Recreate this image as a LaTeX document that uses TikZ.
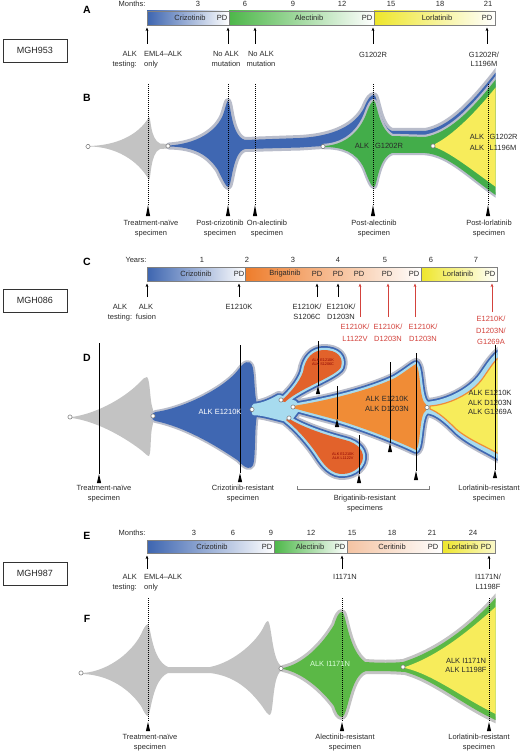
\documentclass[tikz,border=0pt]{standalone}
\usepackage{fontspec}
\setmainfont{Liberation Sans}
\usetikzlibrary{arrows.meta}
\definecolor{crizo}{HTML}{3D65B0}
\definecolor{alec}{HTML}{4DB749}
\definecolor{lorl}{HTML}{EEE62A}
\definecolor{brig}{HTML}{EE7D2C}
\definecolor{ceri}{HTML}{F4C3A2}
\definecolor{fishgray}{HTML}{C3C3C3}
\definecolor{cHalo}{HTML}{B9BDCB}
\definecolor{fblue}{HTML}{3F67B2}
\definecolor{fgreen}{HTML}{43AD4A}
\definecolor{fgreenF}{HTML}{5BB846}
\definecolor{fyellow}{HTML}{F7EC5B}
\definecolor{forange}{HTML}{F08C36}
\definecolor{fdorange}{HTML}{E2622B}
\definecolor{flblue}{HTML}{A7DBEF}
\definecolor{redtxt}{HTML}{D3423C}
\definecolor{bartxt}{HTML}{2A2A2A}
\definecolor{barline}{HTML}{808080}
\newcommand\tlarr[5][]{%
  \coordinate (#2s) at (#3,#4);
  \coordinate (#2e) at (#3,#5);
  \draw[arr,#1] (#2s) -- (#2e);}
\newcommand\specline[6][]{%
  \coordinate (#2t) at (#3,#4);
  \coordinate (#2b) at (#3,#5);
  \draw[#1] (#2t) -- (#2b);
  \fill[black] (#2b) -- ++(-2.1,#6) -- ++(4.2,0) -- cycle;}
% ---- fish paths ----
\def\GB{(89,146) .. controls (115,145.5) and (138,136) .. (149,117) .. controls (151,117) and (150,139) .. (160,143.5) -- (168,144) -- (168,148.5) -- (160,149) .. controls (150,153) and (151,180) .. (149,180) .. controls (138,160) and (115,146.5) .. (89,146.5) -- cycle}
\def\BB{(169,145.5) .. controls (195,144) and (218,132) .. (224,112) .. controls (226,105) and (227,101) .. (228,101) .. controls (231,104) and (231,136) .. (245,140) -- (300,138) .. controls (335,136) and (355,125) .. (364,108) .. controls (368,98) and (371,95) .. (374,95) .. controls (378,96) and (379,126) .. (392,131) -- (425,131) .. controls (448,127) and (470,106) .. (500,67) -- (500,146) -- (323,146) -- (300,147.5) -- (245,149) .. controls (232,152) and (232,187) .. (228,187) .. controls (226,187) and (222,178) .. (218,170) .. controls (208,155) and (195,147) .. (169,146.5) -- cycle}
\def\GrB{(324,146) .. controls (345,145) and (360,132) .. (367,112) .. controls (370,104) and (372,101) .. (374,101) .. controls (377,101) and (378,128) .. (392,136) -- (425,137) .. controls (448,133) and (470,113) .. (500,74) -- (500,198) .. controls (470,178) and (450,155) .. (425,153) -- (392,153) .. controls (378,158) and (377,187) .. (374,187) .. controls (371,187) and (368,178) .. (364,168) .. controls (356,152) and (343,147) .. (324,147) -- cycle}
\def\YB{(433,145) .. controls (448,138) and (470,120) .. (500,82) -- (500,190) .. controls (472,170) and (450,152) .. (433,146.5) -- cycle}
\def\GD{(72,417) .. controls (100,413) and (128,395) .. (140,382) .. controls (143,379) and (145,377) .. (147,377) .. controls (151,381) and (149,406) .. (155,414) -- (155,419) .. controls (149,428) and (152,452) .. (149,456) .. controls (147,456) and (145,453) .. (141,450) .. controls (128,440) and (100,422) .. (72,418) -- cycle}
\def\PBF{(156,416) .. controls (185,412) and (225,392) .. (240,374) .. controls (244,369) and (246,366) .. (248,366) .. controls (251,370) and (250,402) .. (254,406) -- (254,413) .. controls (250,418) and (252,460) .. (249,464) .. controls (247,464) and (244,461) .. (240,457) .. controls (215,440) and (185,423) .. (156,417) -- cycle}
\def\PJ{(254,406) .. controls (264,405) and (272,401) .. (279,397) -- (295,403) -- (296,411) -- (289,420) .. controls (274,417) and (264,413) .. (254,413) -- cycle}
\def\PT{(281,401) .. controls (290,393) and (299,383) .. (303,372) .. controls (305,358) and (313,350) .. (324,350) .. controls (337,350) and (344,357) .. (341,367) .. controls (337,376) and (300,388) .. (285,402) -- cycle}
\def\PB{(288,418) .. controls (300,426) and (322,434) .. (345,440) .. controls (358,443) and (366,452) .. (362,462) .. controls (358,472) and (345,476) .. (336,473) .. controls (325,469) and (320,458) .. (314,450) .. controls (306,439) and (296,428) .. (286,420) -- cycle}
\def\PM{(293,406) .. controls (330,400) and (370,390) .. (395,378) .. controls (405,372) and (412,366) .. (416,364) .. controls (421,370) and (419,400) .. (427,404) .. controls (445,403) and (470,392) .. (482,375) .. controls (489,365) and (493,358) .. (502,351) -- (502,459) .. controls (492,452) and (470,443) .. (457,431) .. controls (446,420) and (437,412) .. (427,411) .. controls (419,414) and (421,446) .. (416,450) .. controls (400,442) and (360,426) .. (330,418) .. controls (315,414) and (300,410) .. (293,408) -- cycle}
\def\PMo{(293,406) .. controls (330,400) and (370,390) .. (395,378) .. controls (405,372) and (412,366) .. (416,364) .. controls (421,370) and (419,400) .. (426,404.5) -- (426,410.5) .. controls (419,414) and (421,446) .. (416,450) .. controls (400,442) and (360,426) .. (330,418) .. controls (315,414) and (300,410) .. (293,408) -- cycle}
\def\PYo{(430,406) .. controls (447,405) and (471,395) .. (483,378) .. controls (490,368) and (494,361) .. (502,354) -- (502,456) .. controls (492,449) and (470,441) .. (456,429) .. controls (446,419) and (438,412) .. (430,409) -- cycle}
\def\GF{(83,673) .. controls (110,671) and (135,650) .. (143,630) .. controls (145,626) and (147,624) .. (148,624) .. controls (151,628) and (152,660) .. (168,667) -- (210,667) .. controls (235,662) and (258,640) .. (264,626) .. controls (266,622) and (267,621) .. (268,621) .. controls (272,625) and (272,664) .. (283,667) -- (283,670) .. controls (272,672) and (274,712) .. (270,715) .. controls (268,715) and (266,712) .. (262,706) .. controls (250,690) and (235,676) .. (210,673) -- (168,673) .. controls (152,680) and (151,714) .. (148,716) .. controls (146,716) and (144,712) .. (141,706) .. controls (130,690) and (110,675) .. (83,674) -- cycle}
\def\GrF{(283,668) .. controls (303,664) and (322,645) .. (334,625) .. controls (337,616) and (339,612) .. (342,612) .. controls (346,612) and (348,650) .. (365,662) .. controls (380,663) and (392,663) .. (403,662) .. controls (440,650) and (472,625) .. (500,593) -- (500,722) .. controls (465,707) and (435,680) .. (405,672) .. controls (392,671) and (380,671) .. (366,671) .. controls (350,675) and (348,716) .. (342,717) .. controls (338,717) and (336,712) .. (334,706) .. controls (322,690) and (303,673) .. (283,669) -- cycle}
\def\YF{(405,667) .. controls (440,655) and (470,630) .. (500,603) -- (500,716) .. controls (465,700) and (435,675) .. (405,668) -- cycle}
\begin{document}
\begin{tikzpicture}[x=1pt,y=-1pt,
  font=\fontsize{7.5}{9.5}\selectfont,
  every node/.style={inner sep=0pt, text=bartxt},
  ml/.style={anchor=north, align=center},
  mlr/.style={anchor=north east, align=right},
  mll/.style={anchor=north west, align=left},
  panel/.style={font=\fontsize{10.5}{12}\selectfont\bfseries, text=black},
  mgh/.style={draw=black!80, line width=0.7, minimum width=64pt, minimum height=23pt, font=\fontsize{9}{10}\selectfont, text=black!85},
  arr/.style={-{Stealth[length=3.6pt,width=2.8pt]}, line width=0.5, draw=black},
  rarr/.style={draw=redtxt},
  dline/.style={line width=0.5, dash pattern=on 1pt off 1pt},
  sline/.style={line width=0.45},
  circ/.style={circle, draw=black!55, fill=white, line width=0.5, minimum size=4.2pt},
  barbox/.style={draw=barline, line width=0.6},
  redml/.style={ml, text=redtxt, font=\fontsize{7.5}{11.5}\selectfont},
]
\useasboundingbox (0,0) rectangle (520,751);
\fill[white] (0,0) rectangle (520,751);

% ================= Panel A =================
\node[panel] (lA) at (87,10) {A};
\node (aM) at (132,4) {Months:};
\node (a3) at (198,4) {3};
\node (a6) at (245,4) {6};
\node (a9) at (293,4) {9};
\node (a12) at (342,4) {12};
\node (a15) at (391,4) {15};
\node (a18) at (440,4) {18};
\node (a21) at (488,4) {21};
\shade[left color=crizo, right color=white] (147,11) rectangle (229,25);
\shade[left color=alec, right color=white] (229,11) rectangle (374,25);
\shade[left color=lorl, right color=white] (374,11) rectangle (495,25);
\draw[barbox] (147,11) rectangle (495,25) (229,11) -- (229,25) (374,11) -- (374,25);
\node (aC) at (190,18) {Crizotinib};
\node (aP1) at (222,18) {PD};
\node (aAl) at (309,18) {Alectinib};
\node (aP2) at (367,18) {PD};
\node (aL) at (437,18) {Lorlatinib};
\node (aP3) at (487,18) {PD};
\tlarr{aA1}{147}{44}{27.5}
\tlarr{aA2}{228}{44}{27.5}
\tlarr{aA3}{255}{44}{27.5}
\tlarr{aA4}{373}{44}{27.5}
\tlarr{aA5}{487}{44}{27.5}
\node[mlr] (aT) at (137,51.6) {ALK\\testing:};
\node[mll] (aE) at (144,51.6) {EML4–ALK\\only};
\node[ml] (aN1) at (226,51.6) {No ALK\\mutation};
\node[ml] (aN2) at (261,51.6) {No ALK\\mutation};
\node[ml] (aG) at (373,51.6) {G1202R};
\node[ml] (aGL) at (484,51.6) {G1202R/\\L1196M};
\node[mgh] (box1) at (35,50.5) {MGH953};

% ================= Panel B =================
\node[panel] (lB) at (87,98) {B};
\begin{scope}
\clip (60,60) rectangle (495.5,206);
\fill[fishgray] \GB;
\path[preaction={draw=cHalo, line width=6, line join=round}, fill=fblue] \BB;
\path[preaction={draw=cHalo, line width=4.5, line join=round}, fill=fgreen] \GrB;
\fill[fyellow] \YB;
\end{scope}
\node[circ] (bc0) at (88,146.5) {};
\node[circ] (bc1) at (168,146) {};
\node[circ] (bc2) at (323,146.5) {};
\node[circ] (bc3) at (433,146) {};
\specline[dline]{bl1}{148}{84}{205}{11}
\specline[dline]{bl2}{228}{84}{205}{11}
\specline[dline]{bl3}{255}{84}{205}{11}
\specline[dline]{bl4}{373}{84}{205}{11}
\specline[dline]{bl5}{488}{84}{205}{11}
\node (bA1) at (362,146) {ALK};
\node (bG1) at (389,146) {G1202R};
\node (bA2) at (477,137) {ALK};
\node[anchor=west] (bG2) at (489.5,137) {G1202R};
\node (bA3) at (477,148) {ALK};
\node[anchor=west] (bL2) at (489.5,148) {L1196M};
\node[ml] (bT) at (151,220.3) {Treatment-naïve\\specimen};
\node[ml] (bP1) at (220,220.3) {Post-crizotinib\\specimen};
\node[ml] (bO) at (267,220.3) {On-alectinib\\specimen};
\node[ml] (bP2) at (374,220.3) {Post-alectinib\\specimen};
\node[ml] (bP3) at (489,220.3) {Post-lorlatinib\\specimen};

% ================= Panel C =================
\node[panel] (lC) at (87,262) {C};
\node (cY) at (136,260) {Years:};
\node (c1) at (202,260) {1};
\node (c2) at (247,260) {2};
\node (c3) at (293,260) {3};
\node (c4) at (338,260) {4};
\node (c5) at (385,260) {5};
\node (c6) at (431,260) {6};
\node (c7) at (476,260) {7};
\shade[left color=crizo, right color=white] (147,267) rectangle (245.5,281);
\shade[left color=brig, right color=white] (245.5,267) rectangle (421,281);
\shade[left color=lorl, right color=white] (421,267) rectangle (497,281);
\draw[barbox] (147,267) rectangle (497,281) (245.5,267) -- (245.5,281) (421,267) -- (421,281);
\node (cC) at (196,274) {Crizotinib};
\node (cP1) at (239,274) {PD};
\node (cB) at (285,274) {Brigatinib};
\node (cP2) at (317,274) {PD};
\node (cP3) at (338,274) {PD};
\node (cP4) at (359,274) {PD};
\node (cP5) at (387,274) {PD};
\node (cP6) at (414,274) {PD};
\node (cL) at (458,274) {Lorlatinib};
\node (cP7) at (490,274) {PD};
\tlarr{cA1}{147}{297}{283.5}
\tlarr{cA2}{239}{297}{283.5}
\tlarr{cA3}{317}{297}{283.5}
\tlarr{cA4}{338}{297}{283.5}
\tlarr[rarr]{cR1}{360}{317}{283.5}
\tlarr[rarr]{cR2}{388}{317}{283.5}
\tlarr[rarr]{cR3}{415}{317}{283.5}
\tlarr[rarr]{cR4}{492}{312}{283.5}
\node[ml] (cT) at (120,304.3) {ALK\\testing:};
\node[ml] (cF) at (146,304.3) {ALK\\fusion};
\node[ml] (cE) at (239,304.3) {E1210K};
\node[ml] (cS) at (307,304.3) {E1210K/\\S1206C};
\node[ml] (cD) at (341,304.3) {E1210K/\\D1203N};
\node[redml] (cr1) at (355,324.3) {E1210K/\\L1122V};
\node[redml] (cr2) at (388,324.3) {E1210K/\\D1203N};
\node[redml] (cr3) at (423,324.3) {E1210K/\\D1203N};
\node[redml] (cr4) at (491,316.3) {E1210K/\\D1203N/\\G1269A};
\node[mgh] (box2) at (35,300.5) {MGH086};

% ================= Panel D =================
\node[panel] (lD) at (87,358) {D};
\begin{scope}
\clip (60,330) rectangle (497.5,490);
\fill[fishgray] \GD;
\draw[cHalo, line width=12, line join=round] \PBF \PJ \PT \PM \PB;
\draw[fblue, line width=8, line join=round] \PBF \PJ \PT \PM \PB;
\fill[fblue] \PBF;
\path[draw=flblue, fill=flblue, line width=4.5, line join=round] \PJ \PT \PM \PB;
\fill[fdorange] \PT;
\fill[fdorange] \PB;
\fill[forange] \PMo;
\path[fill=fyellow, draw=forange, line width=1.2] \PYo;
\end{scope}
\node[circ] (dc0) at (70,417) {};
\node[circ] (dc1) at (153,416) {};
\node[circ] (dc2) at (252,409.5) {};
\node[circ] (dc3) at (281,400) {};
\node[circ] (dc4) at (293,407) {};
\node[circ] (dc5) at (289,418) {};
\node[circ] (dc6) at (427,407.5) {};
\specline[sline]{dl1}{99}{343}{474}{9}
\specline[sline]{dl2}{240}{345}{473}{9}
\specline[sline]{dl3}{318}{341}{386}{8}
\specline[sline]{dl4}{337}{386}{419}{8}
\specline[sline]{dl5}{359}{435}{474}{9}
\specline[sline]{dl6}{390}{362}{443}{9}
\specline[sline]{dl7}{416}{353}{471}{9}
\specline[sline]{dl8}{495}{345}{470}{8}
\node[text=white] (dE) at (220,412) {ALK E1210K};
\node[ml, font=\fontsize{7.5}{10}\selectfont] (dM) at (387,396.3) {ALK E1210K\\ALK D1203N};
\node[ml, font=\fontsize{7.5}{9.3}\selectfont] (dY) at (490,390.5) {ALK E1210K\\ALK D1203N\\ALK G1269A};
\node[align=center, font=\fontsize{3.8}{4.2}\selectfont, text=red!55!black] (dTt) at (323,362) {ALK E1210K\\ALK S1206C};
\node[align=center, font=\fontsize{3.8}{4.2}\selectfont, text=red!55!black] (dBt) at (343,456) {ALK E1210K\\ALK L1122V};
\coordinate (brL) at (297,486);
\coordinate (brR) at (429,486);
\draw[gray, line width=0.6] (brL) -- ++(0,3) -| (brR);
\node[ml, font=\fontsize{7.5}{10}\selectfont] (dL1) at (104,485.3) {Treatment-naïve\\specimen};
\node[ml, font=\fontsize{7.5}{10}\selectfont] (dL2) at (243,485.3) {Crizotinib-resistant\\specimen};
\node[ml, font=\fontsize{7.5}{9.5}\selectfont] (dL3) at (365,495) {Brigatinib-resistant\\specimens};
\node[ml, font=\fontsize{7.5}{10}\selectfont] (dL4) at (489,485.3) {Lorlatinib-resistant\\specimen};

% ================= Panel E =================
\node[panel] (lE) at (87,536) {E};
\node (eM) at (132,533) {Months:};
\node (e3) at (194,533) {3};
\node (e6) at (233,533) {6};
\node (e9) at (271,533) {9};
\node (e12) at (311,533) {12};
\node (e15) at (352,533) {15};
\node (e18) at (392,533) {18};
\node (e21) at (432,533) {21};
\node (e24) at (473,533) {24};
\shade[left color=crizo, right color=white] (147,540) rectangle (274,553);
\shade[left color=alec, right color=white] (274,540) rectangle (347,553);
\shade[left color=ceri, right color=white] (347,540) rectangle (442,553);
\shade[left color=lorl, right color=lorl!25] (442,540) rectangle (495,553);
\draw[barbox] (147,540) rectangle (495,553) (274,540) -- (274,553) (347,540) -- (347,553) (442,540) -- (442,553);
\node (eC) at (212,547) {Crizotinib};
\node (eP1) at (267,547) {PD};
\node (eAl) at (310,547) {Alectinib};
\node (eP2) at (340,547) {PD};
\node (eCe) at (392,547) {Ceritinib};
\node (eP3) at (433,547) {PD};
\node (eL) at (463,547) {Lorlatinib};
\node (eP4) at (486,547) {PD};
\tlarr{eA1}{147}{569}{555.5}
\tlarr{eA2}{342}{569}{555.5}
\tlarr{eA3}{489}{569}{555.5}
\node[mlr] (eT) at (137,574.3) {ALK\\testing:};
\node[mll] (eE) at (144,574.3) {EML4–ALK\\only};
\node[ml] (eI) at (345,574.3) {I1171N};
\node[ml] (eIL) at (488,574.3) {I1171N/\\L1198F};
\node[mgh] (box3) at (35,573.5) {MGH987};

% ================= Panel F =================
\node[panel] (lF) at (87,619) {F};
\begin{scope}
\clip (60,588) rectangle (495.5,730);
\fill[fishgray] \GF;
\path[preaction={draw=fishgray, line width=6, line join=round}, fill=fgreenF] \GrF;
\fill[fyellow] \YF;
\end{scope}
\node[circ] (fc0) at (81,673) {};
\node[circ] (fc1) at (281,668.5) {};
\node[circ] (fc2) at (403,667) {};
\specline[dline]{fl1}{148}{598}{722}{9}
\specline[dline]{fl2}{342}{598}{722}{9}
\specline[dline]{fl3}{489}{598}{722}{9}
\node[text=white!85!green] (fG) at (330,664) {ALK I1171N};
\node[ml, font=\fontsize{7.5}{9}\selectfont] (fY) at (466,658.3) {ALK I1171N\\ALK L1198F};
\node[ml, font=\fontsize{7.5}{10}\selectfont] (fL1) at (150,734.3) {Treatment-naïve\\specimen};
\node[ml, font=\fontsize{7.5}{10}\selectfont] (fL2) at (345,734.3) {Alectinib-resistant\\specimen};
\node[ml, font=\fontsize{7.5}{10}\selectfont] (fL3) at (479,734.3) {Lorlatinib-resistant\\specimen};
\end{tikzpicture}
\end{document}
